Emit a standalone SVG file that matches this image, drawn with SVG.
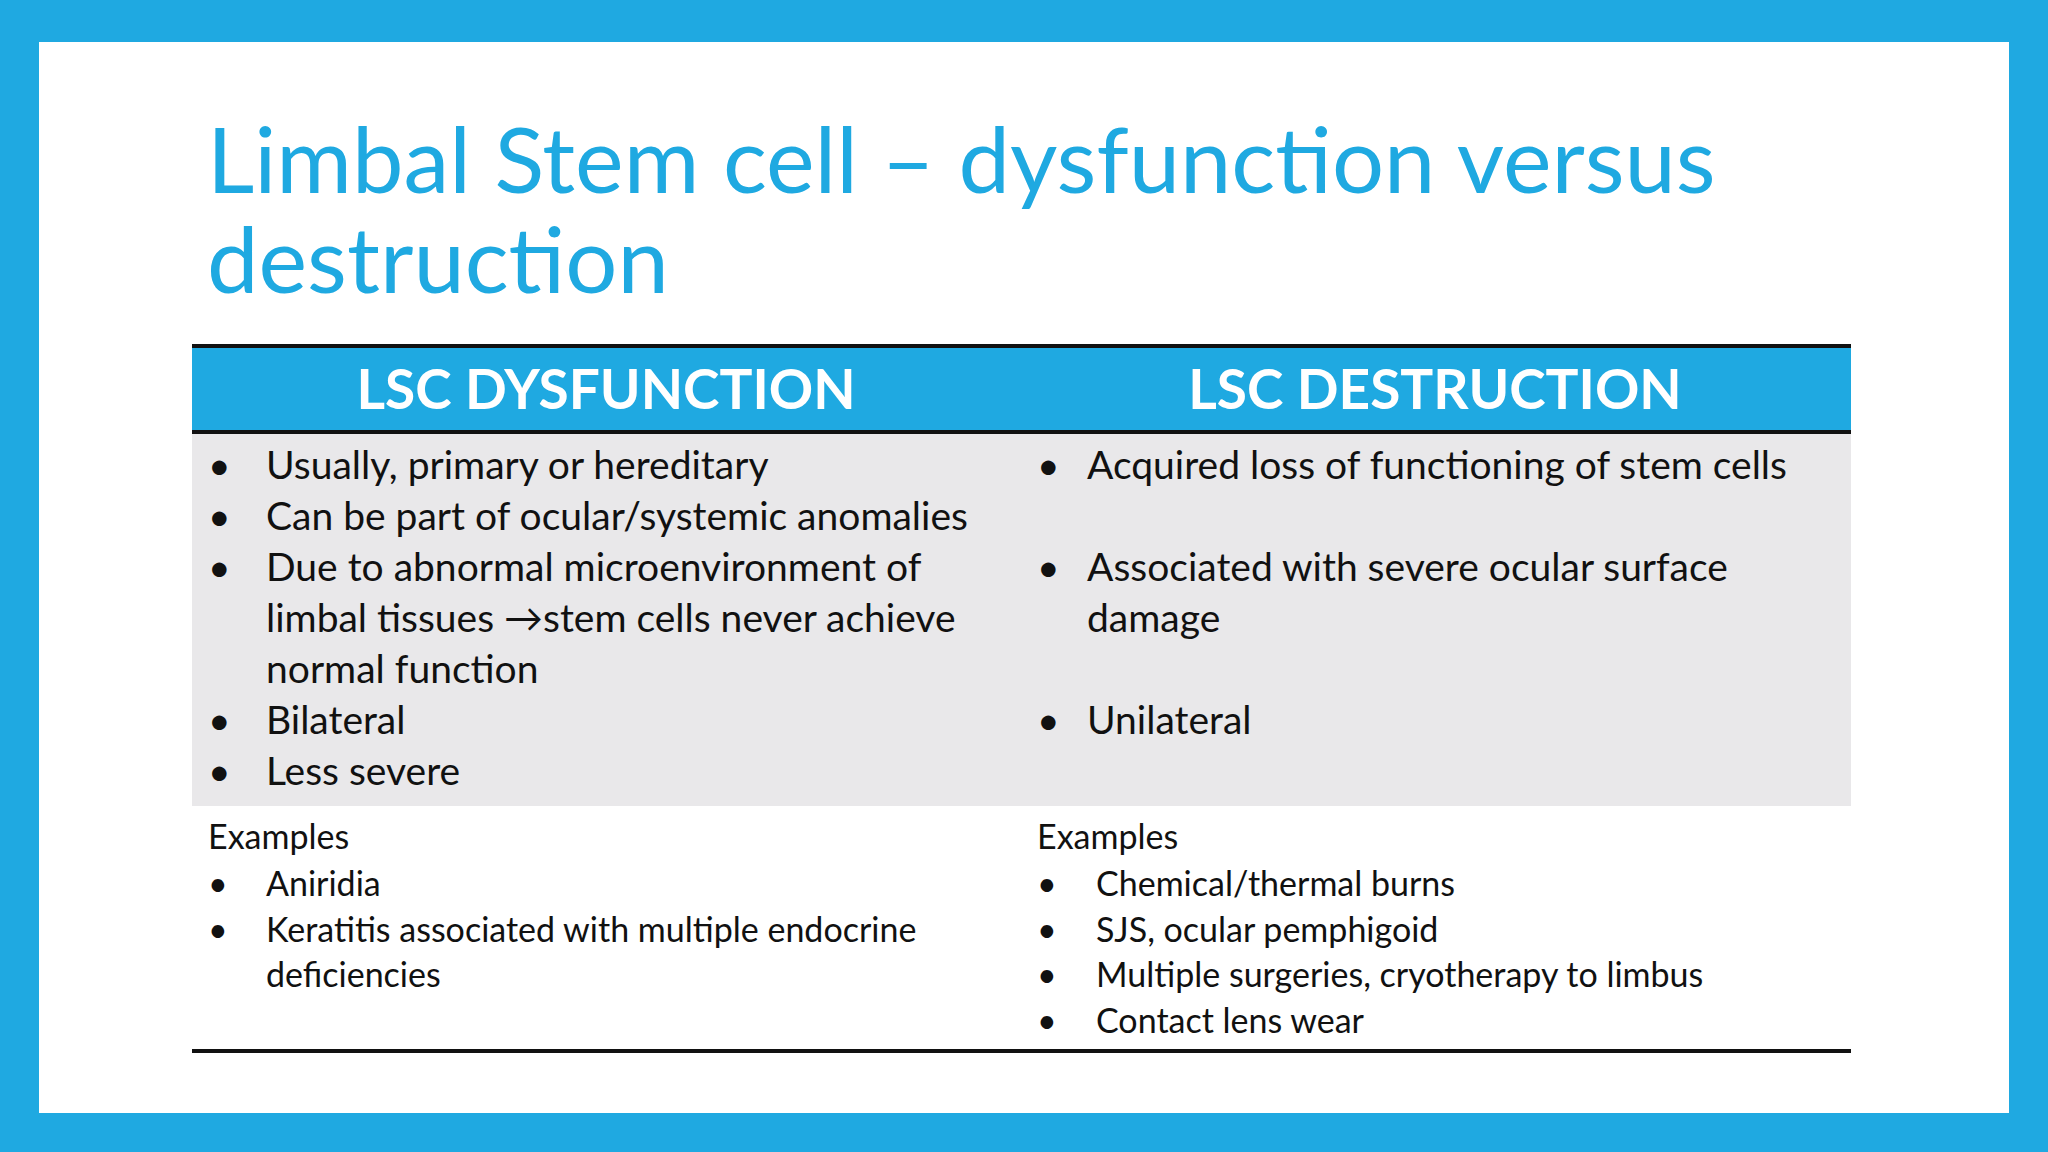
<svg xmlns="http://www.w3.org/2000/svg" width="2048" height="1152" viewBox="0 0 2048 1152">
<style>
text{font-family:Lato,"Open Sans",sans-serif;fill:#111}
.t{fill:#1FA9E1;font-size:92px}
.h{fill:#fff;font-size:55px;font-weight:bold;text-anchor:middle}
.b{font-size:39px}
.e{font-size:34px}
</style>
<rect width="2048" height="1152" fill="#1FA9E1"/>
<rect x="39" y="42" width="1970" height="1071" fill="#fff"/>
<g id="title">
<text class="t" x="207" y="193">Limbal Stem cell – dysfunction versus</text>
<text class="t" x="207" y="293">destruction</text>
</g>
<g id="table">
<rect x="192" y="345" width="1659" height="86" fill="#1FA9E1"/>
<rect x="192" y="434" width="1659" height="372" fill="#E9E8EA"/>
<line x1="192" y1="346" x2="1851" y2="346" stroke="#111" stroke-width="4"/>
<line x1="192" y1="432" x2="1851" y2="432" stroke="#111" stroke-width="4"/>
<line x1="192" y1="1051" x2="1851" y2="1051" stroke="#111" stroke-width="4"/>
<text class="h" x="606" y="409">LSC DYSFUNCTION</text>
<text class="h" x="1435" y="409">LSC DESTRUCTION</text>
<g class="b">
<text class="b" x="208" y="479">•</text><text class="b" x="266" y="479">Usually, primary or hereditary</text>
<text class="b" x="208" y="530">•</text><text class="b" x="266" y="530">Can be part of ocular/systemic anomalies</text>
<text class="b" x="208" y="581">•</text><text class="b" x="266" y="581">Due to abnormal microenvironment of</text>
<text class="b" x="266" y="632">limbal tissues →stem cells never achieve</text>
<text class="b" x="266" y="683">normal function</text>
<text class="b" x="208" y="734">•</text><text class="b" x="266" y="734">Bilateral</text>
<text class="b" x="208" y="785">•</text><text class="b" x="266" y="785">Less severe</text>
<text class="b" x="1037" y="479">•</text><text class="b" x="1087" y="479">Acquired loss of functioning of stem cells</text>
<text class="b" x="1037" y="581">•</text><text class="b" x="1087" y="581">Associated with severe ocular surface</text>
<text class="b" x="1087" y="632">damage</text>
<text class="b" x="1037" y="734">•</text><text class="b" x="1087" y="734">Unilateral</text>
</g>
<text class="e" x="208" y="849">Examples</text>
<text class="e" x="208" y="896">•</text><text class="e" x="266" y="896">Aniridia</text>
<text class="e" x="208" y="942">•</text><text class="e" x="266" y="942">Keratitis associated with multiple endocrine</text>
<text class="e" x="266" y="987">deficiencies</text>
<text class="e" x="1037" y="849">Examples</text>
<text class="e" x="1037" y="896">•</text><text class="e" x="1096" y="896">Chemical/thermal burns</text>
<text class="e" x="1037" y="942">•</text><text class="e" x="1096" y="942">SJS, ocular pemphigoid</text>
<text class="e" x="1037" y="987">•</text><text class="e" x="1096" y="987">Multiple surgeries, cryotherapy to limbus</text>
<text class="e" x="1037" y="1033">•</text><text class="e" x="1096" y="1033">Contact lens wear</text>
</g>
</svg>
